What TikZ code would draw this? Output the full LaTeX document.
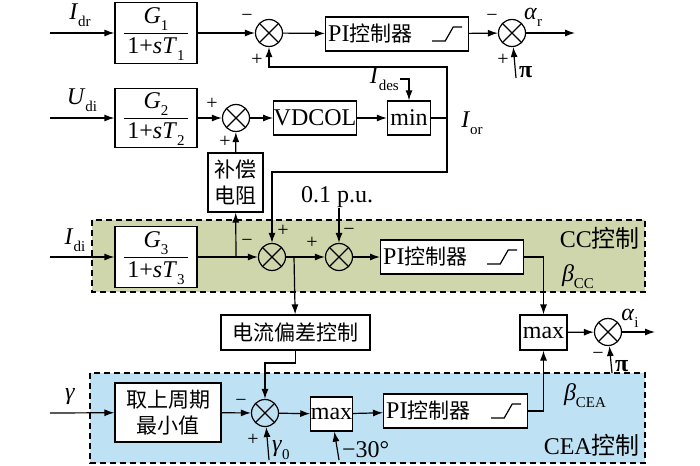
\documentclass[tikz,border=0pt]{standalone}
\usepackage{fontspec}
\setmainfont{Liberation Serif}
\newfontfamily\cjk{Noto Sans CJK SC}
\usetikzlibrary{arrows.meta}
\newcommand{\lb}[2]{\textit{#1}\raisebox{-0.3em}{\fontsize{15}{15}\selectfont #2}}
\newcommand{\frc}[1]{{\setlength{\tabcolsep}{3pt}\renewcommand{\arraystretch}{1.1}\begin{tabular}{c}\lb{G}{#1}\\[1pt]\hline 1+\textit{s}\lb{T}{#1}\end{tabular}}}
\begin{document}
\begin{tikzpicture}[x=1pt,y=-1pt,font=\fontsize{24}{26}\selectfont,
  blk/.style={draw,line width=1.2pt,fill=white,inner sep=0pt},
  sum/.style={draw,line width=1.2pt,circle,minimum size=27pt,inner sep=0pt,path picture={\draw[line width=1.2pt] (path picture bounding box.north west)--(path picture bounding box.south east) (path picture bounding box.north east)--(path picture bounding box.south west);}},
  ar/.style={-{Latex[length=10pt,width=7pt]},line width=1.2pt},
  ln/.style={line width=1.2pt},
  sg/.style={font=\fontsize{20}{20}\selectfont}]
\useasboundingbox (0,0) rectangle (700,465);
\fill[fill={rgb,255:red,208;green,214;blue,172}] (92,220) rectangle (645,292);
\draw[dashed,line width=1.2pt,dash pattern=on 6pt off 4pt] (92,220) rectangle (645,292);
\fill[fill={rgb,255:red,190;green,226;blue,243}] (90,373) rectangle (645,463);
\draw[dashed,line width=1.2pt,dash pattern=on 6pt off 4pt] (90,373) rectangle (645,463);
\node[font=\cjk\fontsize{21}{22}\selectfont,anchor=east,inner sep=0pt] (cclab) at (640,238) {\rmfamily\fontsize{24}{24}\selectfont CC\cjk 控制};
\node[font=\cjk\fontsize{21}{22}\selectfont,anchor=east,inner sep=0pt] (cealab) at (640,445) {\rmfamily\fontsize{24}{24}\selectfont CEA\cjk 控制};
% nodes
\node[blk,minimum width=82pt,minimum height=61pt] (g1) at (156,33) {\frc{1}};
\node[blk,minimum width=82pt,minimum height=59pt] (g2) at (156,118) {\frc{2}};
\node[blk,minimum width=82pt,minimum height=61pt] (g3) at (156,257) {\frc{3}};
\node[sum] (s1) at (269,33) {};
\node[sum] (s2) at (236,118) {};
\node[sum] (s3) at (272,257) {};
\node[sum] (s4) at (339,257) {};
\node[sum] (s5) at (265,413) {};
\node[sum] (sr) at (512,33) {};
\node[sum] (si) at (608,332) {};
\node[blk,minimum width=143pt,minimum height=34pt,anchor=west] (pi1) at (325,34) {};
\node[blk,minimum width=143pt,minimum height=34pt,anchor=west] (pi2) at (380,257) {};
\node[blk,minimum width=144pt,minimum height=34pt,anchor=west] (pi3) at (383,411) {};
\foreach \p in {pi1,pi2,pi3}{
  \node[anchor=west,inner sep=0pt] (\p t) at ([xshift=3pt]\p.west) {PI{\cjk\fontsize{21}{22}\selectfont 控制器}};
  \draw[line width=1.2pt] ([xshift=-37pt,yshift=-7pt]\p.east) -- ++(13,0) -- ++(8,-14) -- ++(9,0);
}
\node[blk,minimum width=80pt,minimum height=34pt] (vd) at (315,118) {VDCOL};
\node[blk,minimum width=43pt,minimum height=34pt] (mn) at (409,118) {min};
\node[blk,minimum width=55pt,minimum height=59pt,font=\cjk\fontsize{21}{26}\selectfont,align=center] (bc) at (235.5,182.5) {补偿\\电阻};
\node[blk,minimum width=149pt,minimum height=35pt,font=\cjk\fontsize{21}{22}\selectfont] (dl) at (295.5,332.5) {电流偏差控制};
\node[blk,minimum width=106pt,minimum height=59pt,font=\cjk\fontsize{21}{26}\selectfont,align=center] (qm) at (168,412.5) {取上周期\\最小值};
\node[blk,minimum width=37pt,minimum height=34pt] (mx2) at (331.5,414) {max};
\node[blk,minimum width=47pt,minimum height=35pt] (mx) at (543.5,332.5) {max};
% coordinates
\coordinate (in1) at (50,33); \coordinate (in2) at (50,118); \coordinate (in3) at (50,257); \coordinate (in5) at (50,413);
\coordinate (outr) at (575,33); \coordinate (outi) at (655,332);
\coordinate (pir) at (516,78); \coordinate (pii) at (612,373);
\coordinate (ides) at (400,79); \coordinate (pu) at (339,208);
\coordinate (g0) at (269,460); \coordinate (m30) at (339,460);
\coordinate (fbR) at (447,118);
% labels
\node (lidr) at (80,15) {\lb{I}{dr}};
\node (ludi) at (82,100) {\lb{U}{di}};
\node (lidi) at (75,240) {\lb{I}{di}};
\node (lg) at (70,397) {\textit{γ}};
\node (lar) at (533,17) {\lb{α}{r}};
\node (lai) at (630,318) {\lb{α}{i}};
\node[anchor=west,inner sep=1pt] (lpr) at (518,72) {\textbf{π}};
\node[anchor=west,inner sep=1pt] (lpi) at (614,366) {\textbf{π}};
\node[anchor=east,inner sep=1pt] (lides) at (ides) {\lb{I}{des}};
\node (lior) at (472,123) {\lb{I}{or}};
\node (lpu) at (337,197) {0.1 p.u.};
\node (lbcc) at (578,277) {\lb{β}{CC}};
\node (lbcea) at (585,396) {\lb{β}{CEA}};
\node[anchor=west,inner sep=1pt] (lg0) at (271,450) {\lb{γ}{0}};
\node[anchor=west,inner sep=1pt] (l30) at (341,450) {−30°};
% signs
\node[sg] at (247,18) {−}; \node[sg] at (257,60) {+};
\node[sg] at (212,104) {+}; \node[sg] at (225,142) {+};
\node[sg] at (247,243) {−}; \node[sg] at (283,231) {+};
\node[sg] at (312,243) {+}; \node[sg] at (349,232) {−};
\node[sg] at (492,18) {−}; \node[sg] at (503,60) {+};
\node[sg] at (598,356) {−};
\node[sg] at (241,403) {−}; \node[sg] at (253,440) {+};
% connectors
\draw[ar] (in1) -- (g1); \draw[ar] (g1) -- (s1); \draw[ar] (s1) -- (pi1); \draw[ar] (pi1) -- (sr); \draw[ar] (sr) -- (outr); \draw[ar] (pir) -- (sr);
\draw[ar] (in2) -- (g2); \draw[ar] (g2) -- (s2); \draw[ar] (s2) -- (vd); \draw[ar] (vd) -- (mn);
\draw[ar] (ides) -| (mn);
\draw[ln] (mn) -- (fbR);
\draw[ar] (fbR) |- (447,67) -| (s1);
\draw[ar] (fbR) |- (447,172) -| (s3);
\draw[ar] (bc) -- (s2);
\draw[ar] (in3) -- (g3); \draw[ar] (g3) -- (s3);
\draw[ar] (236,257) -- (bc);
\draw[ar] (s3) -- (s4); \draw[ar] (pu) -- (s4); \draw[ar] (s4) -- (pi2);
\draw[ar] (294,257) -- (dl);
\draw[ar] (dl.south) |- (265,363) -- (s5);
\draw[ar] (pi2.east) -| (mx);
\draw[ar] (pi3.east) -| (mx);
\draw[ar] (mx) -- (si); \draw[ar] (si) -- (outi); \draw[ar] (pii) -- (si);
\draw[ar] (in5) -- (qm); \draw[ar] (qm) -- (s5); \draw[ar] (s5) -- (mx2); \draw[ar] (mx2) -- (pi3);
\draw[ar] (g0) -- (s5); \draw[ar] (m30) -- (mx2);
\end{tikzpicture}
\end{document}
